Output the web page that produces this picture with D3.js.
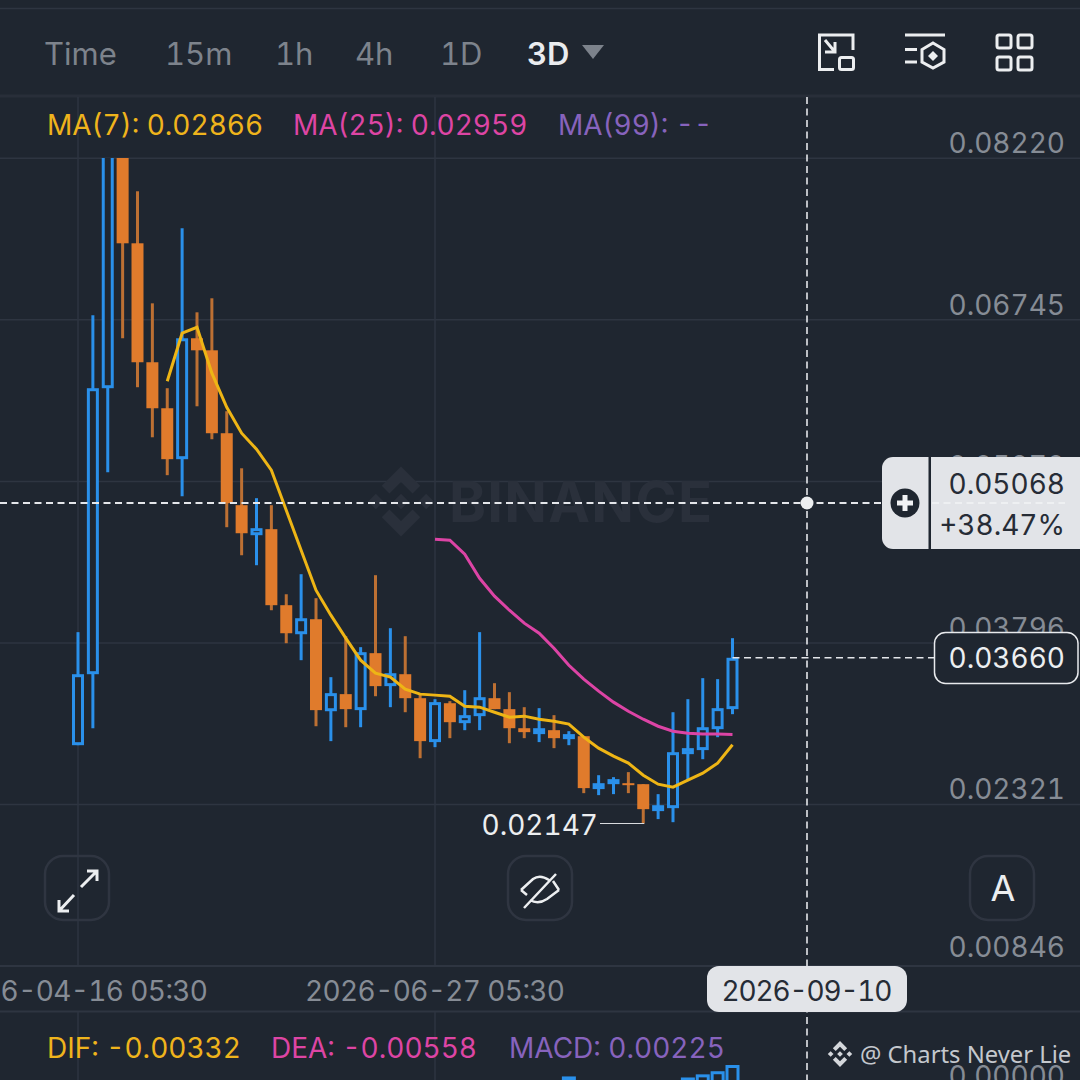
<!DOCTYPE html>
<html>
<head>
<meta charset="utf-8">
<script src="https://cdn.jsdelivr.net/npm/d3@7/dist/d3.min.js"></script>
<style>
  html, body { margin: 0; padding: 0; background: #1f2630; overflow: hidden; }
  svg { display: block; }
  text { font-family: Inter, "Noto Sans", sans-serif; font-feature-settings: "tnum"; }
</style>
</head>
<body>
<script>
// Candles, one every 3 days
var opens = [0.02862,0.03510,0.06121,0.09050,0.07444,0.06358,0.05938,0.05473,0.06577,0.06467,0.05710,0.05053,0.04779,0.04834,0.04140,
  0.03875,0.04012,0.03172,0.03328,0.03182,0.03702,0.03401,0.03510,0.03291,0.02890,0.03245,0.03063,0.03127,0.03291,0.03191,
  0.03017,0.02963,0.02999,0.02917,0.02944,0.02461,0.02506,0.02515,0.02506,0.02260,0.02287,0.02780,0.02817,0.03008,0.03191];
var closes = [0.03510,0.06121,0.09050,0.07444,0.06358,0.05938,0.05473,0.06577,0.06467,0.05710,0.05071,0.04797,0.04843,0.04140,0.03884,
  0.04021,0.03182,0.03337,0.03191,0.03711,0.03401,0.03519,0.03291,0.02899,0.03255,0.03072,0.03136,0.03300,0.03191,0.03017,
  0.02981,0.03017,0.02926,0.02963,0.02470,0.02515,0.02552,0.02506,0.02278,0.02314,0.02798,0.02835,0.03026,0.03200,0.03660];
var highs = [0.03894,0.06787,0.09500,0.09500,0.07919,0.06896,0.06121,0.07581,0.06814,0.06942,0.05911,0.05390,0.05117,0.05053,0.04240,
  0.04423,0.04204,0.03483,0.03857,0.03757,0.04414,0.03930,0.03857,0.03328,0.03282,0.03264,0.03364,0.03894,0.03428,0.03346,
  0.03209,0.03200,0.03136,0.02990,0.02944,0.02588,0.02570,0.02616,0.02506,0.02415,0.03163,0.03282,0.03474,0.03465,0.03839];
var lows = [0.02862,0.03017,0.05354,0.06577,0.06130,0.05673,0.05327,0.05135,0.05956,0.05655,0.04852,0.04596,0.04505,0.04094,0.03793,
  0.03638,0.03035,0.02899,0.03026,0.03026,0.03309,0.03209,0.03163,0.02743,0.02844,0.02926,0.02999,0.02999,0.03191,0.02880,
  0.02926,0.02890,0.02835,0.02862,0.02424,0.02406,0.02415,0.02424,0.02147,0.02187,0.02159,0.02543,0.02734,0.02935,0.03145];

// Moving averages start at candle 6 and candle 24
var ma7 = [0.06185,0.06623,0.06677,0.06258,0.05947,0.05710,0.05564,0.05372,0.05007,0.04642,0.04277,0.04049,0.03839,0.03638,0.03519,
  0.03483,0.03373,0.03328,0.03319,0.03309,0.03218,0.03209,0.03163,0.03118,0.03127,0.03099,0.03081,0.03054,0.02935,0.02835,
  0.02762,0.02698,0.02588,0.02506,0.02479,0.02543,0.02606,0.02698,0.02866];
var ma25 = [0.04742,0.04733,0.04606,0.04386,0.04222,0.04094,0.03976,0.03884,0.03747,0.03592,0.03465,0.03355,0.03255,0.03172,0.03099,
  0.03035,0.02990,0.02972,0.02963,0.02963,0.02959];

// MACD bars that show at the bottom edge
var macdIndex = [33,41,42,43,44];
var macdValues = [0.00126,0.00117,0.00144,0.00171,0.00225];

var priceTicks = ["0.08220","0.06745","0.05270","0.03796","0.02321","0.00846"];
var dateTicks = [{i:0, label:"2026-04-16 05:30"}, {i:24, label:"2026-06-27 05:30"}];
var periods = [{t:"Time",x:44},{t:"15m",x:165},{t:"1h",x:275},{t:"4h",x:355},{t:"1D",x:440}];
var maLegend = [{t:"MA(7): 0.02866",x:47,c:"#efb41c"},{t:"MA(25): 0.02959",x:293,c:"#dd45a4"},{t:"MA(99): --",x:558,c:"#8763bd"}];
var macdLegend = [{t:"DIF: -0.00332",x:47,c:"#efb41c"},{t:"DEA: -0.00558",x:271,c:"#dd45a4"},{t:"MACD: 0.00225",x:509,c:"#8763bd"}];

var bg = "#1f2630", grid = "#2e3541", blue = "#2a90ea", orange = "#e07b2c", wickOrange = "#bd7033";
var light = "#e4e6ea", muted = "#868c95", fs = 28;

var svg = d3.select("body").append("svg").attr("width", 1080).attr("height", 1080);
svg.append("rect").attr("width", 1080).attr("height", 1080).attr("fill", bg);

var x = d3.scaleLinear().domain([0, 44]).range([78, 732.5]);
var y = d3.scaleLinear().domain([0.00846, 0.08220]).range([966, 158.3]);
var macdY = d3.scaleLinear().domain([0, 0.00225]).range([1091, 1065]);

svg.append("clipPath").attr("id", "plot").append("rect").attr("x", 0).attr("y", 158).attr("width", 1080).attr("height", 808);

// frame lines
svg.append("line").attr("x1", 0).attr("x2", 1080).attr("y1", 8.5).attr("y2", 8.5).attr("stroke", grid).attr("stroke-width", 1.5);
svg.append("line").attr("x1", 0).attr("x2", 1080).attr("y1", 96).attr("y2", 96).attr("stroke", "#282e39").attr("stroke-width", 3);
svg.append("line").attr("x1", 0).attr("x2", 1080).attr("y1", 966).attr("y2", 966).attr("stroke", grid).attr("stroke-width", 2);
svg.append("line").attr("x1", 0).attr("x2", 1080).attr("y1", 1011.5).attr("y2", 1011.5).attr("stroke", grid).attr("stroke-width", 2);

// grid
svg.selectAll(".hgrid").data(priceTicks.slice(0, 5)).enter().append("line")
  .attr("x1", 0).attr("x2", 1080)
  .attr("y1", function (d) { return y(+d); }).attr("y2", function (d) { return y(+d); })
  .attr("stroke", grid).attr("stroke-width", 1.5);
[[97, 965], [1012, 1080]].forEach(function (r) {
  svg.selectAll(null).data(dateTicks).enter().append("line")
    .attr("x1", function (d) { return x(d.i); }).attr("x2", function (d) { return x(d.i); })
    .attr("y1", r[0]).attr("y2", r[1])
    .attr("stroke", grid).attr("stroke-width", 1.5);
});

// binance logo, r is half the height
function logo(g, cx, cy, r, color) {
  var shapes = [
    [[0,-1],[0.55,-0.45],[0.33,-0.23],[0,-0.56],[-0.33,-0.23],[-0.55,-0.45]],
    [[0,1],[0.55,0.45],[0.33,0.23],[0,0.56],[-0.33,0.23],[-0.55,0.45]],
    [[0,-0.22],[0.22,0],[0,0.22],[-0.22,0]],
    [[-0.72,-0.22],[-0.5,0],[-0.72,0.22],[-0.94,0]],
    [[0.72,-0.22],[0.94,0],[0.72,0.22],[0.5,0]]
  ];
  g.selectAll(null).data(shapes).enter().append("polygon")
    .attr("points", function (s) { return s.map(function (p) { return (cx + p[0] * r) + "," + (cy + p[1] * r); }).join(" "); })
    .attr("fill", color);
}
logo(svg, 401, 501.5, 35, "#2a303b");
svg.append("text").attr("x", 449).attr("y", 522).attr("font-size", 56).attr("font-weight", 700)
  .attr("fill", "#2a303b").attr("textLength", 263).text("BINANCE");

// candles
var candles = d3.range(opens.length);
var chart = svg.append("g").attr("clip-path", "url(#plot)");

chart.selectAll(".wick").data(candles).enter().append("line")
  .attr("x1", function (i) { return x(i); }).attr("x2", function (i) { return x(i); })
  .attr("y1", function (i) { return y(highs[i]); }).attr("y2", function (i) { return y(lows[i]); })
  .attr("stroke", function (i) { return closes[i] >= opens[i] ? blue : wickOrange; })
  .attr("stroke-width", 3);

chart.selectAll(".body").data(candles).enter().append("rect")
  .attr("x", function (i) { return closes[i] >= opens[i] ? x(i) - 4.5 : x(i) - 6; })
  .attr("width", function (i) { return closes[i] >= opens[i] ? 9 : 12; })
  .attr("y", function (i) {
    var top = y(Math.max(opens[i], closes[i]));
    return closes[i] >= opens[i] ? top + 1.5 : top;
  })
  .attr("height", function (i) {
    var h = Math.abs(y(opens[i]) - y(closes[i]));
    return closes[i] >= opens[i] ? Math.max(h - 3, 0.5) : Math.max(h, 2);
  })
  .attr("fill", function (i) { return closes[i] >= opens[i] ? bg : orange; })
  .attr("stroke", function (i) { return closes[i] >= opens[i] ? blue : "none"; })
  .attr("stroke-width", 3);

// moving averages
var maLine = function (start) {
  return d3.line().x(function (d, k) { return x(start + k); }).y(function (d) { return y(d); });
};
chart.append("path").attr("d", maLine(24)(ma25)).attr("fill", "none").attr("stroke", "#dc44a5").attr("stroke-width", 3);
chart.append("path").attr("d", maLine(6)(ma7)).attr("fill", "none").attr("stroke", "#eeb515").attr("stroke-width", 3);

// lowest price note
svg.append("text").attr("x", 598).attr("y", 835).attr("text-anchor", "end").attr("font-size", fs).attr("fill", "#eceef0").text("0.02147");
svg.append("line").attr("x1", 600).attr("x2", x(38) + 1).attr("y1", y(0.02147)).attr("y2", y(0.02147)).attr("stroke", "#d8dade").attr("stroke-width", 1.2);

// macd bars
svg.selectAll(".macd").data(macdIndex).enter().append("rect")
  .attr("x", function (i) { return x(i) - 5.5; })
  .attr("width", 11)
  .attr("y", function (i, k) { return macdY(macdValues[k]) + 1.5; })
  .attr("height", 40)
  .attr("fill", function (i) { return i === 33 ? blue : bg; })
  .attr("stroke", blue).attr("stroke-width", 3);

// price axis, the lowest label sits a little higher
svg.selectAll(".ptick").data(priceTicks).enter().append("text")
  .attr("x", 1065).attr("text-anchor", "end").attr("font-size", fs).attr("fill", muted)
  .attr("y", function (d, k) { return y(+d) - (k === 5 ? 9 : 5); })
  .text(function (d) { return d; });
svg.append("text").attr("x", 1065).attr("y", 1086).attr("text-anchor", "end").attr("font-size", fs).attr("fill", muted).text("0.00000");

// time axis
svg.selectAll(".dtick").data(dateTicks).enter().append("text")
  .attr("x", function (d) { return x(d.i); }).attr("y", 1001).attr("text-anchor", "middle")
  .attr("font-size", fs).attr("textLength", 260).attr("fill", muted)
  .text(function (d) { return d.label; });

// period tabs
svg.selectAll(".tab").data(periods).enter().append("text")
  .attr("x", function (d) { return d.x; }).attr("y", 65).attr("font-size", 31).attr("fill", "#7d838c")
  .text(function (d) { return d.t; });
svg.append("text").attr("x", 527).attr("y", 65).attr("font-size", 31).attr("font-weight", 600).attr("fill", "#eaecef").text("3D");
svg.append("polygon").attr("points", "582,45 604,45 593,59").attr("fill", "#7c828b");

// legends
svg.selectAll(".ma").data(maLegend).enter().append("text")
  .attr("x", function (d) { return d.x; }).attr("y", 135).attr("font-size", fs)
  .attr("fill", function (d) { return d.c; }).text(function (d) { return d.t; });
svg.selectAll(".mc").data(macdLegend).enter().append("text")
  .attr("x", function (d) { return d.x; }).attr("y", 1058).attr("font-size", fs)
  .attr("fill", function (d) { return d.c; }).text(function (d) { return d.t; });

// crosshair
var dash = "7,4.5";
svg.append("line").attr("x1", 807).attr("x2", 807).attr("y1", 97).attr("y2", 1080).attr("stroke", light).attr("stroke-width", 1.6).attr("stroke-dasharray", dash);
svg.append("line").attr("x1", 0).attr("x2", 883).attr("y1", 503).attr("y2", 503).attr("stroke", light).attr("stroke-width", 1.8).attr("stroke-dasharray", dash);
svg.append("circle").attr("cx", 807).attr("cy", 503).attr("r", 6.5).attr("fill", "#eceef0");

// last price tag
svg.append("line").attr("x1", x(44)).attr("x2", 934).attr("y1", y(0.0366)).attr("y2", y(0.0366)).attr("stroke", light).attr("stroke-width", 1.6).attr("stroke-dasharray", dash);
svg.append("rect").attr("x", 934.5).attr("y", 632.5).attr("width", 143.5).attr("height", 51).attr("rx", 11)
  .attr("fill", bg).attr("stroke", "#e8eaed").attr("stroke-width", 1.5);
svg.append("text").attr("x", 1065).attr("y", 668).attr("text-anchor", "end").attr("font-size", fs).attr("fill", "#eceef0").text("0.03660");

// crosshair price tag
svg.append("rect").attr("x", 882).attr("y", 457).attr("width", 210).attr("height", 92).attr("rx", 11).attr("fill", "#e2e4e8");
svg.append("rect").attr("x", 928.5).attr("y", 457).attr("width", 2.5).attr("height", 92).attr("fill", bg);
svg.append("line").attr("x1", 932).attr("x2", 1065).attr("y1", 503).attr("y2", 503).attr("stroke", "#f2f3f5").attr("stroke-width", 1.6).attr("stroke-dasharray", dash);
svg.append("circle").attr("cx", 905).attr("cy", 503).attr("r", 14.5).attr("fill", bg);
svg.append("path").attr("d", "M905,495V511M897,503H913").attr("stroke", "#f0f1f3").attr("stroke-width", 5);
svg.append("text").attr("x", 1065).attr("y", 494).attr("text-anchor", "end").attr("font-size", fs).attr("fill", "#262c36").text("0.05068");
svg.append("text").attr("x", 1065).attr("y", 535).attr("text-anchor", "end").attr("font-size", fs).attr("fill", "#262c36").text("+38.47%");

// date tag
svg.append("rect").attr("x", 707).attr("y", 966).attr("width", 200).attr("height", 46).attr("rx", 12).attr("fill", "#e2e4e8");
svg.append("text").attr("x", 807).attr("y", 1001).attr("text-anchor", "middle").attr("font-size", fs).attr("textLength", 171).attr("fill", "#262c36").text("2026-09-10");

// buttons
[[45, 856], [508, 856], [970, 856]].forEach(function (p) {
  svg.append("rect").attr("x", p[0]).attr("y", p[1]).attr("width", 64).attr("height", 64).attr("rx", 18)
    .attr("fill", p[0] === 45 ? "none" : bg).attr("stroke", "#2f3541").attr("stroke-width", 2.5);
});
var icon = function (d, w) {
  return svg.append("path").attr("d", d).attr("fill", "none").attr("stroke", "#eceef0").attr("stroke-width", w || 3);
};
icon("M81,887L97,871M87,871H97V881M74,895L59,911M59,900V911H69");
icon("M521,890L533,879Q540,874 549,880M559,890L553,881M559,890L547,899Q538,905 530,900M521,890L527,895M524,908L556,874", 2.5);
svg.append("text").attr("x", 1003).attr("y", 901).attr("text-anchor", "middle").attr("font-size", 36).attr("fill", "#eceef0").text("A");

// toolbar icons
icon("M834,69.5H819.5V35H853V50M825,40L835,52M825,52H835V42");
svg.append("rect").attr("x", 839.5).attr("y", 57.5).attr("width", 14).attr("height", 12).attr("rx", 2).attr("fill", "none").attr("stroke", "#eceef0").attr("stroke-width", 3);
icon("M905,35H945M905,49.5H917M905,62H917");
svg.append("polygon").attr("points", "933,43 944,49.5 944,62 933,68 922,62 922,49.5").attr("fill", "none").attr("stroke", "#eceef0").attr("stroke-width", 3);
svg.append("polygon").attr("points", "933,51 938,56 933,61 928,56").attr("fill", "#eceef0");
[[997, 35], [1018, 35], [997, 57], [1018, 57]].forEach(function (p) {
  svg.append("rect").attr("x", p[0]).attr("y", p[1]).attr("width", 14).attr("height", 13).attr("rx", 2).attr("fill", "none").attr("stroke", "#eceef0").attr("stroke-width", 3);
});

// signature
logo(svg, 840, 1054, 13, "#d4d7db");
svg.append("text").attr("x", 860).attr("y", 1063).attr("font-size", 23.8).attr("fill", "#c4c8cd")
  .style("font-family", "'Noto Sans'").text("@ Charts Never Lie");
</script>
</body>
</html>
